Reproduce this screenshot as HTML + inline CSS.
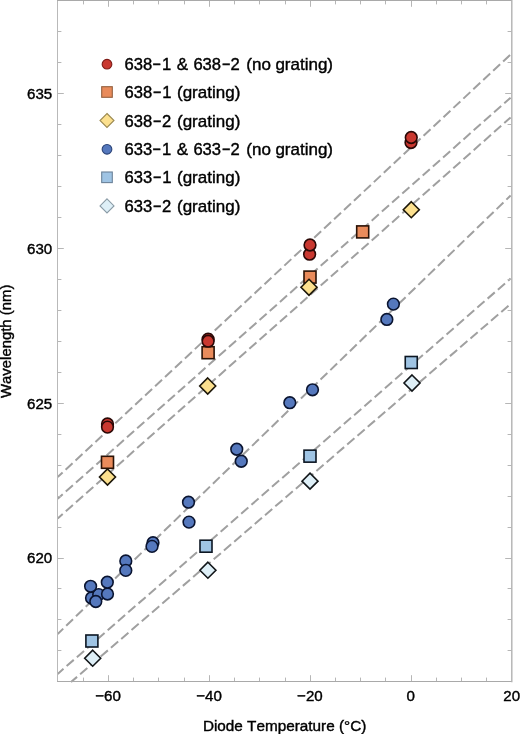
<!DOCTYPE html>
<html lang="en"><head><meta charset="utf-8"><title>Wavelength vs Diode Temperature</title>
<style>html,body{margin:0;padding:0;background:#fff;}body{width:520px;height:734px;overflow:hidden;}</style>
</head><body>
<svg width="520" height="734" viewBox="0 0 520 734" style="display:block">
<rect x="0" y="0" width="520" height="734" fill="#ffffff"/>
<g stroke="#a0a0a0" stroke-width="2.0" fill="none">
<line x1="57.7" y1="477.1" x2="510.6" y2="54.52" stroke-dasharray="9.5 4.100" stroke-dashoffset="2.800"/>
<line x1="57.7" y1="498.7" x2="510.6" y2="97.66" stroke-dasharray="9.5 4.120" stroke-dashoffset="2.800"/>
<line x1="57.7" y1="518.5" x2="510.6" y2="117.46" stroke-dasharray="9.5 4.120" stroke-dashoffset="2.800"/>
<line x1="57.7" y1="634.0" x2="510.6" y2="195.56" stroke-dasharray="9.5 4.115" stroke-dashoffset="1.800"/>
<line x1="57.7" y1="673.9" x2="510.6" y2="278.55" stroke-dasharray="9.5 4.130" stroke-dashoffset="1.800"/>
<line x1="71.0" y1="682.1" x2="510.6" y2="303.93" stroke-dasharray="9.5 4.050" stroke-dashoffset="1.500"/>
</g>
<g stroke="#b6b6b6" stroke-width="1" fill="none">
<path d="M83.5 681.5v-3.9M83.5 0.5v3.9"/>
<path d="M108.5 681.5v-6.3M108.5 0.5v6.3"/>
<path d="M133.5 681.5v-3.9M133.5 0.5v3.9"/>
<path d="M158.5 681.5v-3.9M158.5 0.5v3.9"/>
<path d="M184.5 681.5v-3.9M184.5 0.5v3.9"/>
<path d="M209.5 681.5v-6.3M209.5 0.5v6.3"/>
<path d="M234.5 681.5v-3.9M234.5 0.5v3.9"/>
<path d="M259.5 681.5v-3.9M259.5 0.5v3.9"/>
<path d="M285.5 681.5v-3.9M285.5 0.5v3.9"/>
<path d="M310.5 681.5v-6.3M310.5 0.5v6.3"/>
<path d="M335.5 681.5v-3.9M335.5 0.5v3.9"/>
<path d="M360.5 681.5v-3.9M360.5 0.5v3.9"/>
<path d="M385.5 681.5v-3.9M385.5 0.5v3.9"/>
<path d="M411.5 681.5v-6.3M411.5 0.5v6.3"/>
<path d="M436.5 681.5v-3.9M436.5 0.5v3.9"/>
<path d="M461.5 681.5v-3.9M461.5 0.5v3.9"/>
<path d="M486.5 681.5v-3.9M486.5 0.5v3.9"/>
<path d="M57.5 650.5h3.9M511.5 650.5h-3.9"/>
<path d="M57.5 619.5h3.9M511.5 619.5h-3.9"/>
<path d="M57.5 588.5h3.9M511.5 588.5h-3.9"/>
<path d="M57.5 558.5h6.3M511.5 558.5h-6.3"/>
<path d="M57.5 527.5h3.9M511.5 527.5h-3.9"/>
<path d="M57.5 496.5h3.9M511.5 496.5h-3.9"/>
<path d="M57.5 465.5h3.9M511.5 465.5h-3.9"/>
<path d="M57.5 434.5h3.9M511.5 434.5h-3.9"/>
<path d="M57.5 403.5h6.3M511.5 403.5h-6.3"/>
<path d="M57.5 372.5h3.9M511.5 372.5h-3.9"/>
<path d="M57.5 341.5h3.9M511.5 341.5h-3.9"/>
<path d="M57.5 310.5h3.9M511.5 310.5h-3.9"/>
<path d="M57.5 279.5h3.9M511.5 279.5h-3.9"/>
<path d="M57.5 248.5h6.3M511.5 248.5h-6.3"/>
<path d="M57.5 217.5h3.9M511.5 217.5h-3.9"/>
<path d="M57.5 186.5h3.9M511.5 186.5h-3.9"/>
<path d="M57.5 155.5h3.9M511.5 155.5h-3.9"/>
<path d="M57.5 124.5h3.9M511.5 124.5h-3.9"/>
<path d="M57.5 93.5h6.3M511.5 93.5h-6.3"/>
<path d="M57.5 62.5h3.9M511.5 62.5h-3.9"/>
<path d="M57.5 31.5h3.9M511.5 31.5h-3.9"/>
</g>
<g stroke-width="1" fill="none" stroke-linecap="square">
<path d="M57.5 0.5V681.5" stroke="#b9b9b9"/>
<path d="M57.5 0.5H511.5M511.5 681.5H57.5" stroke="#a9a9a9"/>
<path d="M511.8 0.5V681.5" stroke="#b2b2b2" stroke-width="1.4"/>
</g>
<g><rect x="202.10" y="346.70" width="12.0" height="12.0" fill="#e98b5b" stroke="#2a1206" stroke-width="1.6"/><circle cx="107.5" cy="424.0" r="5.85" fill="#c93830" stroke="#2a0806" stroke-width="1.6"/><circle cx="107.5" cy="427.1" r="5.85" fill="#c93830" stroke="#2a0806" stroke-width="1.6"/><circle cx="208.1" cy="339.2" r="5.85" fill="#c93830" stroke="#2a0806" stroke-width="1.6"/><circle cx="208.1" cy="341.2" r="5.85" fill="#c93830" stroke="#2a0806" stroke-width="1.6"/><circle cx="309.6" cy="254.2" r="5.85" fill="#c93830" stroke="#2a0806" stroke-width="1.6"/><circle cx="310" cy="245" r="5.85" fill="#c93830" stroke="#2a0806" stroke-width="1.6"/><circle cx="411" cy="142.5" r="5.85" fill="#c93830" stroke="#2a0806" stroke-width="1.6"/><circle cx="411.25" cy="137.5" r="5.85" fill="#c93830" stroke="#2a0806" stroke-width="1.6"/><rect x="101.50" y="456.30" width="12.0" height="12.0" fill="#e98b5b" stroke="#2a1206" stroke-width="1.6"/><rect x="304.00" y="271.10" width="12.0" height="12.0" fill="#e98b5b" stroke="#2a1206" stroke-width="1.6"/><rect x="356.70" y="225.90" width="12.0" height="12.0" fill="#e98b5b" stroke="#2a1206" stroke-width="1.6"/><path d="M107.5 469.00L115.50 477.0L107.5 485.00L99.50 477.0Z" fill="#fce08e" stroke="#1c1608" stroke-width="1.6" stroke-linejoin="miter"/><path d="M207.7 378.00L215.70 386L207.7 394.00L199.70 386Z" fill="#fce08e" stroke="#1c1608" stroke-width="1.6" stroke-linejoin="miter"/><path d="M309 279.30L317.00 287.3L309 295.30L301.00 287.3Z" fill="#fce08e" stroke="#1c1608" stroke-width="1.6" stroke-linejoin="miter"/><path d="M411.3 201.70L419.30 209.7L411.3 217.70L403.30 209.7Z" fill="#fce08e" stroke="#1c1608" stroke-width="1.6" stroke-linejoin="miter"/><circle cx="91.5" cy="598.0" r="5.85" fill="#5578bd" stroke="#0a1430" stroke-width="1.6"/><circle cx="98.7" cy="594.6" r="5.85" fill="#5578bd" stroke="#0a1430" stroke-width="1.6"/><circle cx="107.5" cy="594.0" r="5.85" fill="#5578bd" stroke="#0a1430" stroke-width="1.6"/><circle cx="107.3" cy="582.2" r="5.85" fill="#5578bd" stroke="#0a1430" stroke-width="1.6"/><circle cx="90.6" cy="586.3" r="5.85" fill="#5578bd" stroke="#0a1430" stroke-width="1.6"/><circle cx="95.8" cy="601.5" r="5.85" fill="#5578bd" stroke="#0a1430" stroke-width="1.6"/><circle cx="125.8" cy="561" r="5.85" fill="#5578bd" stroke="#0a1430" stroke-width="1.6"/><circle cx="125.8" cy="570.4" r="5.85" fill="#5578bd" stroke="#0a1430" stroke-width="1.6"/><circle cx="153" cy="542.7" r="5.85" fill="#5578bd" stroke="#0a1430" stroke-width="1.6"/><circle cx="152" cy="546.4" r="5.85" fill="#5578bd" stroke="#0a1430" stroke-width="1.6"/><circle cx="188.5" cy="502.2" r="5.85" fill="#5578bd" stroke="#0a1430" stroke-width="1.6"/><circle cx="189" cy="522.1" r="5.85" fill="#5578bd" stroke="#0a1430" stroke-width="1.6"/><circle cx="236.75" cy="449.25" r="5.85" fill="#5578bd" stroke="#0a1430" stroke-width="1.6"/><circle cx="241.25" cy="461.25" r="5.85" fill="#5578bd" stroke="#0a1430" stroke-width="1.6"/><circle cx="289.8" cy="402.7" r="5.85" fill="#5578bd" stroke="#0a1430" stroke-width="1.6"/><circle cx="312.5" cy="389.8" r="5.85" fill="#5578bd" stroke="#0a1430" stroke-width="1.6"/><circle cx="393.4" cy="304.1" r="5.85" fill="#5578bd" stroke="#0a1430" stroke-width="1.6"/><circle cx="386.85" cy="319.45" r="5.85" fill="#5578bd" stroke="#0a1430" stroke-width="1.6"/><rect x="85.90" y="635.00" width="12.0" height="12.0" fill="#9fc4e4" stroke="#0c1622" stroke-width="1.6"/><rect x="200.00" y="540.20" width="12.0" height="12.0" fill="#9fc4e4" stroke="#0c1622" stroke-width="1.6"/><rect x="304.00" y="450.15" width="12.0" height="12.0" fill="#9fc4e4" stroke="#0c1622" stroke-width="1.6"/><rect x="405.25" y="356.50" width="12.0" height="12.0" fill="#9fc4e4" stroke="#0c1622" stroke-width="1.6"/><path d="M92.7 650.20L100.70 658.2L92.7 666.20L84.70 658.2Z" fill="#deeff7" stroke="#111518" stroke-width="1.6" stroke-linejoin="miter"/><path d="M207.9 562.20L215.90 570.2L207.9 578.20L199.90 570.2Z" fill="#deeff7" stroke="#111518" stroke-width="1.6" stroke-linejoin="miter"/><path d="M310 473.15L318.00 481.15L310 489.15L302.00 481.15Z" fill="#deeff7" stroke="#111518" stroke-width="1.6" stroke-linejoin="miter"/><path d="M412 375.00L420.00 383L412 391.00L404.00 383Z" fill="#deeff7" stroke="#111518" stroke-width="1.6" stroke-linejoin="miter"/></g>
<g><circle cx="107" cy="64.2" r="4.85" fill="#c93830" stroke="#7d1c17" stroke-width="1.1"/><rect x="101.70" y="86.70" width="10.6" height="10.6" fill="#e98b5b" stroke="#94603f" stroke-width="1.1"/><path d="M107 113.50L114.00 120.5L107 127.50L100.00 120.5Z" fill="#fce08e" stroke="#9c8a52" stroke-width="1.1" stroke-linejoin="miter"/><circle cx="107" cy="149.3" r="4.85" fill="#5578bd" stroke="#2c4478" stroke-width="1.1"/><rect x="101.70" y="172.00" width="10.6" height="10.6" fill="#9fc4e4" stroke="#6b8299" stroke-width="1.1"/><path d="M107 198.90L114.00 205.9L107 212.90L100.00 205.9Z" fill="#deeff7" stroke="#8a9ba6" stroke-width="1.1" stroke-linejoin="miter"/></g>
<g font-family="'Liberation Sans', Arial, Helvetica, sans-serif" font-size="17.0" style="font-kerning:none" fill="#000" stroke="#000" stroke-width="0.4">
<text y="70.20"><tspan x="124.6" font-size="16.6">638</tspan><tspan x="152.6" textLength="8.4" lengthAdjust="spacingAndGlyphs">−</tspan><tspan x="162.0" font-size="16.6">1 </tspan><tspan x="176.8">&amp; </tspan><tspan x="193.4" font-size="16.6">638</tspan><tspan x="221.9" textLength="8.4" lengthAdjust="spacingAndGlyphs">−</tspan><tspan x="230.4" font-size="16.6">2 </tspan><tspan x="246.3">(no </tspan><tspan x="275.4">grating)</tspan></text>
<text y="98.00"><tspan x="124.6" font-size="16.6">638</tspan><tspan x="152.9" textLength="8.4" lengthAdjust="spacingAndGlyphs">−</tspan><tspan x="162.3" font-size="16.6">1 </tspan><tspan x="177.0">(grating)</tspan></text>
<text y="126.50"><tspan x="124.6" font-size="16.6">638</tspan><tspan x="152.9" textLength="8.4" lengthAdjust="spacingAndGlyphs">−</tspan><tspan x="162.0" font-size="16.6">2 </tspan><tspan x="177.0">(grating)</tspan></text>
<text y="155.30"><tspan x="124.6" font-size="16.6">633</tspan><tspan x="152.6" textLength="8.4" lengthAdjust="spacingAndGlyphs">−</tspan><tspan x="162.0" font-size="16.6">1 </tspan><tspan x="176.8">&amp; </tspan><tspan x="193.4" font-size="16.6">633</tspan><tspan x="221.9" textLength="8.4" lengthAdjust="spacingAndGlyphs">−</tspan><tspan x="230.4" font-size="16.6">2 </tspan><tspan x="246.3">(no </tspan><tspan x="275.4">grating)</tspan></text>
<text y="183.30"><tspan x="124.6" font-size="16.6">633</tspan><tspan x="152.9" textLength="8.4" lengthAdjust="spacingAndGlyphs">−</tspan><tspan x="162.3" font-size="16.6">1 </tspan><tspan x="177.0">(grating)</tspan></text>
<text y="211.90"><tspan x="124.6" font-size="16.6">633</tspan><tspan x="152.9" textLength="8.4" lengthAdjust="spacingAndGlyphs">−</tspan><tspan x="162.0" font-size="16.6">2 </tspan><tspan x="177.0">(grating)</tspan></text>
</g>
<g font-family="'Liberation Sans', Arial, Helvetica, sans-serif" font-size="15.1" style="font-kerning:none" fill="#000" stroke="#000" stroke-width="0.4">
<text x="52.2" y="563.45" text-anchor="end">620</text>
<text x="52.2" y="408.60" text-anchor="end">625</text>
<text x="52.2" y="253.75" text-anchor="end">630</text>
<text x="52.2" y="98.90" text-anchor="end">635</text>
<text x="108.10" y="700.7" text-anchor="middle">−60</text>
<text x="209.00" y="700.7" text-anchor="middle">−40</text>
<text x="309.90" y="700.7" text-anchor="middle">−20</text>
<text x="410.80" y="700.7" text-anchor="middle">0</text>
<text x="511.70" y="700.7" text-anchor="middle">20</text>
<text x="284.6" y="730.6" text-anchor="middle" font-size="15.3">Diode Temperature (°C)</text>
<text transform="translate(11.2 341.3) rotate(-90)" text-anchor="middle" font-size="14.9">Wavelength (nm)</text>
</g>
</svg>
</body></html>
